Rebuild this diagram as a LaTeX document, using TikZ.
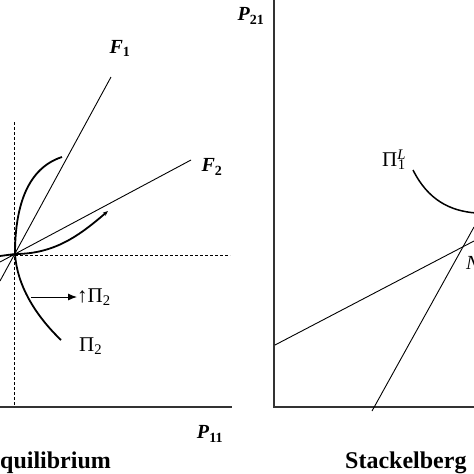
\documentclass[tikz,border=0pt]{standalone}
\usepackage{fontspec}
\setmainfont{Liberation Serif}
\usetikzlibrary{arrows.meta}

\tikzset{
  axis/.style={line width=1.1pt, black!80},
  guide/.style={line width=0.9pt, dash pattern=on 3pt off 2pt},
  react/.style={line width=0.9pt},
  isoprofit/.style={line width=1.8pt},
  lbl/.style={inner sep=0pt, font=\fontsize{21}{23}\selectfont},
  axlbl/.style={inner sep=0pt, font=\fontsize{20}{22}\selectfont\bfseries},
  title/.style={inner sep=0pt, font=\fontsize{24}{26}\selectfont\bfseries}
}

\begin{document}
\begin{tikzpicture}[x=1pt, y=-1pt]
\useasboundingbox (0,0) rectangle (474,474);
\clip (0,0) rectangle (474,474);

% left panel: Nash equilibrium
\coordinate (nash) at (15,254);
\draw[axis] (0,407) -- (232,407);
\draw[guide] (14,122) -- (14,407);
\draw[guide] (0,255) -- (230,255);

\coordinate (fone a) at (0,281);
\coordinate (fone b) at (111,77);
\coordinate (ftwo a) at (0,262);
\coordinate (ftwo b) at (191,160);
\draw[react] (fone a) -- (fone b);
\draw[react] (ftwo a) -- (ftwo b);
\node[axlbl, anchor=south] (F1) at (120,57) {\textit{F}\textsubscript{1}};
\node[axlbl] (F2) at (212,167) {\textit{F}\textsubscript{2}};

% isoprofit curves through the equilibrium
\draw[isoprofit] (62,157) .. controls (28,168) and (15,205) .. (nash)
  .. controls (17,285) and (35,315) .. (61,340);
\draw[isoprofit, -{Stealth[length=5pt, width=4pt]}] (0,256) -- (nash)
  .. controls (55,254) and (80,235) .. (108,211);

\node[lbl, anchor=west] (pitwo) at (79,346) {Π\textsubscript{2}};
\coordinate (shift) at (31,297);
\node[lbl, anchor=west] (pitwoup) at (77,297) {↑Π\textsubscript{2}};
\draw[react, -{Latex[length=9pt, width=7pt]}] (shift) -- (pitwoup.west);

\node[axlbl] (P11) at (210,434) {\textit{P}\textsubscript{11}};
\node[title, anchor=west] (nashtitle) at (0,463) {quilibrium};

% right panel: Stackelberg
\draw[axis] (274,0) -- (274,407) -- (474,407);
\node[axlbl] (P21) at (251,16) {\textit{P}\textsubscript{21}};

\coordinate (lone a) at (275,345);
\coordinate (lone b) at (474,241);
\coordinate (ltwo a) at (372,411);
\coordinate (ltwo b) at (474,227);
\draw[react] (lone a) -- (lone b);
\draw[react] (ltwo a) -- (ltwo b);

\draw[isoprofit, line width=1.5pt] (413,170) .. controls (428,200) and (450,211) .. (476,213);
\node[lbl, anchor=south west] (pione) at (382,170) {Π\textsuperscript{\rlap{\textit{L}}}\textsubscript{1}};
\node[lbl, anchor=west, font=\fontsize{20}{22}\selectfont\itshape] (stack) at (466,263) {N};

\node[title, anchor=west] (stacktitle) at (345,463) {Stackelberg};

\end{tikzpicture}
\end{document}
